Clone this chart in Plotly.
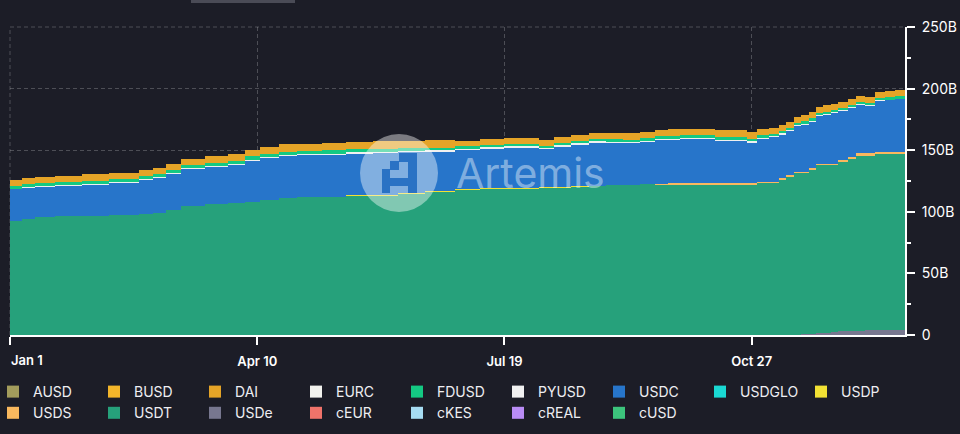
import pandas as pd
import plotly.graph_objects as go

# ---------------- data (billions USD) ----------------
START = "2024-01-01"
N_DAYS = 362

# day index (from Jan 1) of each reading; a reading holds until the next one
READ_DAYS = [0, 5, 10, 18, 29, 40, 52, 58, 63, 69,
             79, 88, 95, 101, 109, 116, 126, 136, 147, 157,
             168, 180, 190, 200, 207, 214, 220, 227, 234, 241,
             248, 255, 261, 266, 271, 285, 298, 302, 307, 311,
             314, 317, 320, 323, 326, 329, 332, 335, 339, 342,
             346, 350, 354, 358]

USDT = [92.9, 94.4, 95.4, 96.2, 96.7, 97.3, 97.9, 98.9, 101.4, 104.9,
        106.4, 107.3, 108.1, 109.9, 110.9, 111.9, 112.4, 113.1, 113.6, 114.6,
        116.1, 118.1, 118.6, 119.1, 119.3, 119.5, 119.8, 120.4, 121.2, 121.7,
        122.1, 122.5, 121.9, 122.2, 122.2, 122.2, 122.2, 123.4, 123.4, 126.1,
        128.8, 131.5, 131.0, 133.2, 136.5, 136.0, 135.5, 137.7, 140.1, 142.5,
        142.3, 143.4, 143.3, 143.3]

USDC = [25.9, 25.7, 25.1, 25.4, 25.8, 26.3, 28.2, 28.7, 29.5, 30.0,
        30.5, 31.0, 33.7, 34.0, 34.9, 34.4, 34.5, 34.0, 33.8, 33.8,
        32.8, 32.0, 32.6, 32.9, 32.7, 31.2, 33.1, 34.0, 35.3, 34.5,
        33.8, 34.3, 35.7, 35.6, 36.3, 35.0, 33.6, 35.4, 36.7, 36.0,
        35.8, 37.3, 38.6, 38.4, 38.7, 39.9, 41.4, 40.1, 40.3, 39.7,
        38.9, 41.7, 42.2, 43.1]

DAI = [4.9, 4.9, 4.9, 4.9, 4.9, 4.9, 4.9, 5.2, 5.2, 5.2,
       5.2, 5.2, 5.2, 5.2, 6.0, 6.0, 6.0, 6.0, 6.0, 6.0,
       6.0, 4.5, 4.5, 4.5, 4.5, 4.5, 5.0, 5.0, 5.0, 5.0,
       5.0, 5.0, 5.0, 5.4, 5.4, 5.4, 5.4, 5.0, 5.0, 5.0,
       5.0, 5.0, 5.0, 5.0, 5.0, 5.0, 5.0, 5.0, 5.0, 5.0,
       5.0, 5.0, 5.0, 5.0]

FDUSD = [1.6, 2.0, 2.5, 2.5, 2.5, 2.5, 2.5, 2.7, 2.7, 2.7,
         2.7, 2.7, 2.7, 2.7, 2.7, 2.7, 2.7, 2.7, 2.7, 2.0,
         2.0, 2.0, 2.0, 2.0, 2.0, 2.0, 2.0, 2.0, 2.0, 2.0,
         2.0, 2.4, 2.4, 2.4, 2.4, 2.4, 2.4, 1.8, 1.8, 1.8,
         1.8, 1.8, 1.8, 1.8, 1.8, 1.8, 1.8, 1.8, 1.5, 1.5,
         1.5, 1.5, 1.5, 1.5]

PYUSD = [0.4] * 17 + [0.7] * 15 + [0.5] * 22
USDP = [0.0] * 17 + [0.4] * 11 + [0.0] * 26
USDS = [0.0] * 32 + [0.8] * 5 + [1.0] * 7 + [1.2] * 5 + [1.4] * 5
USDE = [0.0] * 42 + [0.5, 1.0, 1.5, 2.0, 2.5, 3.0, 3.3, 3.5, 3.7, 3.9, 4.0, 4.0]
AUSD = [0.0] * 54
BUSD = [0.0] * 54
EURC = [0.0] * 54
USDGLO = [0.0] * 54
CEUR = [0.0] * 54
CKES = [0.0] * 54
CREAL = [0.0] * 54
CUSD = [0.0] * 54

Y_TICKS = [0, 50, 100, 150, 200, 250]
Y_TICKTEXT = ["0", "50B", "100B", "150B", "200B", "250B"]
X_TICKS = ["2024-01-01", "2024-04-10", "2024-07-19", "2024-10-27"]
X_TICKTEXT = ["", "Apr 10", "Jul 19", "Oct 27"]
FIRST_TICK_LABEL = "Jan 1"   # drawn left-aligned at its tick, like the reference

SERIES = {
    "AUSD": (AUSD, "#a39c5c"), "BUSD": (BUSD, "#f3b52a"), "DAI": (DAI, "#e5a427"),
    "EURC": (EURC, "#f2f2ee"), "FDUSD": (FDUSD, "#14c983"), "PYUSD": (PYUSD, "#f0f0f0"),
    "USDC": (USDC, "#2775ca"), "USDGLO": (USDGLO, "#1ad9d3"), "USDP": (USDP, "#f2e134"),
    "USDS": (USDS, "#f9b85e"), "USDT": (USDT, "#26a17b"), "USDe": (USDE, "#77778f"),
    "cEUR": (CEUR, "#f0736a"), "cKES": (CKES, "#a6dcf2"), "cREAL": (CREAL, "#b98cf5"),
    "cUSD": (CUSD, "#3cc47c"),
}
LEGEND_ORDER = list(SERIES.keys())
STACK_ORDER = list(reversed(LEGEND_ORDER))  # bottom -> top


def hold(values):
    out = []
    for d in range(N_DAYS):
        k = max(i for i, rd in enumerate(READ_DAYS) if rd <= d)
        out.append(values[k])
    return out


dates = pd.date_range(START + " 12:00", periods=N_DAYS, freq="D")

BG = "#1c1d27"
GRID = "rgba(255,255,255,0.22)"
FONT = "Inter, 'Open Sans', sans-serif"

fig = go.Figure()
for name in STACK_ORDER:
    vals, color = SERIES[name]
    fig.add_trace(go.Bar(
        x=dates, y=hold(vals), name=name,
        marker=dict(color=color, line=dict(width=0)),
        legendrank=LEGEND_ORDER.index(name) + 1,
    ))

# plot area in pixels: x 10..905, y 27..335
L, R, T, B = 10, 55, 27, 99
PW, PH = 960 - L - R, 434 - T - B


def px(xp):
    return (xp - L) / PW


def py(yp):
    return (434 - B - yp) / PH


shapes = [
    # dashed grid lines along the top and left edges of the plot area
    dict(type="line", xref="paper", yref="paper", x0=0, x1=1, y0=1, y1=1,
         line=dict(color=GRID, width=1, dash="4px,3px"), layer="below"),
    dict(type="line", xref="paper", yref="paper", x0=0, x1=0, y0=0, y1=1,
         line=dict(color=GRID, width=1, dash="4px,3px"), layer="below"),
    dict(type="rect", xref="paper", yref="paper", x0=px(191), x1=px(295), y0=py(3), y1=py(0),
         fillcolor="#4a4b56", line=dict(width=0), layer="above"),
    dict(type="circle", xref="paper", yref="paper", x0=px(360), x1=px(438), y0=py(212), y1=py(134),
         fillcolor="rgba(255,255,255,0.42)", line=dict(width=0), layer="above"),
]
logo_blocks = [(382, 390, 169, 193), (390, 399, 161, 170), (399, 408, 153, 162),
               (408, 417, 153, 193), (382, 417, 178, 186)]
for x0, x1, y0, y1 in logo_blocks:
    shapes.append(dict(type="rect", xref="paper", yref="paper", x0=px(x0), x1=px(x1),
                       y0=py(y1), y1=py(y0), fillcolor="#2a72c4", line=dict(width=0), layer="above"))

TICKFONT_X = dict(family=FONT, size=13, color="#ffffff", weight=600)

fig.update_layout(
    width=960, height=434,
    margin=dict(l=L, r=R, t=T, b=B, pad=0, autoexpand=False),
    paper_bgcolor=BG, plot_bgcolor=BG,
    barmode="stack", bargap=0,
    font=dict(family=FONT, color="#ffffff", size=13),
    showlegend=True,
    legend=dict(orientation="h", x=px(-7), xanchor="left", y=py(376), yanchor="top",
                entrywidth=56, entrywidthmode="pixels", traceorder="normal",
                font=dict(family=FONT, size=14, color="#eeeef2"),
                bgcolor="rgba(0,0,0,0)", itemclick=False),
    shapes=shapes,
    annotations=[
        dict(text="Artemis", xref="paper", yref="paper", x=px(530), y=py(173),
             xanchor="center", yanchor="middle", showarrow=False,
             font=dict(family=FONT, size=41, color="rgba(255,255,255,0.42)")),
        dict(text=FIRST_TICK_LABEL, xref="x", yref="paper", x=X_TICKS[0], y=py(360),
             xanchor="left", yanchor="middle", showarrow=False, xshift=-1,
             font=TICKFONT_X),
    ],
    xaxis=dict(type="date", range=["2024-01-01", "2024-12-28"],
               tickmode="array", tickvals=X_TICKS, ticktext=X_TICKTEXT,
               ticks="outside", ticklen=8, tickwidth=2, tickcolor="#ffffff",
               ticklabelstandoff=5,
               showline=True, linecolor="#ffffff", linewidth=2,
               showgrid=True, gridcolor=GRID, griddash="4px,3px", gridwidth=1,
               tickfont=TICKFONT_X,
               zeroline=False, automargin=False, fixedrange=True),
    yaxis=dict(side="right", range=[0, 250],
               tickmode="array", tickvals=Y_TICKS, ticktext=Y_TICKTEXT,
               ticks="outside", ticklen=8, tickwidth=2, tickcolor="#ffffff",
               ticklabelstandoff=4,
               minor=dict(tickmode="linear", tick0=0, dtick=25, ticks="outside",
                          ticklen=4, tickwidth=2, tickcolor="#ffffff", showgrid=False),
               showline=True, linecolor="#ffffff", linewidth=2,
               showgrid=True, gridcolor=GRID, griddash="4px,3px", gridwidth=1,
               tickfont=dict(size=14, color="#ffffff"),
               zeroline=False, automargin=False, fixedrange=True),
)

fig.write_html("out.html", config={"displayModeBar": False})
